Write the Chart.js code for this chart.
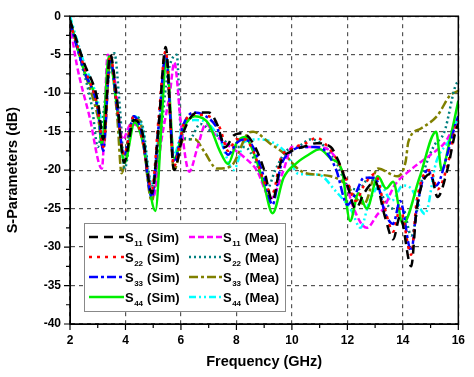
<!DOCTYPE html>
<html>
<head>
<meta charset="utf-8">
<script src="https://cdn.jsdelivr.net/npm/chart.js@4"></script>
<style>
  html, body { margin: 0; padding: 0; background: #fff; }
  #wrap { width: 474px; height: 377px; }
</style>
</head>
<body>
<div id="wrap"><canvas id="chart" width="474" height="377"></canvas></div>
<script>
// Frequency (GHz) / S-parameter (dB) pairs
const s11Sim = [[2,-0.5],[2.5,-6],[3.0,-11],[3.2,-16],[3.45,-5],[3.7,-11],[3.95,-19],[4.3,-13.5],[4.6,-15],[4.95,-23],[5.2,-14],[5.45,-4],[5.75,-20],[6.1,-15],[6.6,-12.5],[7.0,-12.5],[7.3,-14],[7.6,-17],[7.9,-15.5],[8.2,-15.2],[8.6,-16.5],[9.0,-20],[9.3,-24],[9.6,-19],[10.0,-17.5],[10.4,-17],[10.9,-16.5],[11.4,-17],[11.7,-19],[12.0,-22],[12.3,-25],[12.6,-23],[13.0,-21.5],[13.35,-26],[13.65,-29],[13.9,-26],[14.3,-32.5],[14.5,-25],[15.0,-20.5],[15.25,-23.5],[15.6,-20],[15.9,-15],[16,-14]];
const s22Sim = [[2,-0.8],[2.5,-6.5],[3.0,-12],[3.2,-17],[3.45,-5],[3.7,-12],[3.95,-18],[4.3,-13],[4.6,-16],[4.95,-22.5],[5.2,-13],[5.45,-4.5],[5.75,-19.5],[6.1,-14],[6.5,-12.8],[7.0,-13],[7.4,-14.5],[7.7,-17.5],[8.0,-16],[8.3,-16],[8.6,-17.5],[9.0,-21.5],[9.3,-23],[9.6,-18.5],[10.0,-17.2],[10.5,-16.5],[10.9,-15.8],[11.3,-17],[11.6,-18.5],[12.0,-21.5],[12.3,-24],[12.6,-22],[13.0,-20.5],[13.35,-25],[13.65,-28],[13.9,-25],[14.3,-31],[14.5,-24],[15.0,-20],[15.25,-22.5],[15.6,-19.5],[15.9,-14.5],[16,-13.5]];
const s33Sim = [[2,-0.8],[2.5,-7],[3.0,-12],[3.2,-17.5],[3.45,-5.5],[3.7,-12],[3.95,-18],[4.3,-13],[4.6,-15.5],[4.95,-23.5],[5.2,-14],[5.45,-5],[5.75,-19],[6.1,-14],[6.5,-12.5],[6.9,-13],[7.3,-14.5],[7.7,-18],[8.0,-16.5],[8.3,-16],[8.6,-17],[9.0,-21],[9.3,-24.5],[9.6,-19.5],[10.0,-17.5],[10.35,-17],[10.8,-17],[11.2,-17.5],[11.6,-20],[12.0,-24.5],[12.3,-23],[12.6,-21],[13.0,-21],[13.35,-25.5],[13.65,-27],[13.9,-24],[14.3,-30.5],[14.5,-25],[14.9,-20],[15.2,-22],[15.6,-18],[15.9,-14],[16,-13]];
const s44Sim = [[2,-0.5],[2.5,-7],[3.0,-12],[3.15,-16.8],[3.4,-5.2],[3.7,-12],[3.97,-19],[4.33,-13.8],[4.6,-16],[5.08,-25.3],[5.3,-14],[5.47,-5.2],[5.76,-18.5],[6.1,-14.5],[6.5,-13],[7.0,-14],[7.4,-17.5],[7.7,-19.2],[8.0,-16.5],[8.3,-15.7],[8.7,-18.5],[9.0,-22],[9.3,-25.6],[9.7,-21],[10.2,-19],[10.6,-18],[11.0,-17.3],[11.4,-18.5],[11.8,-20],[12.1,-26.6],[12.4,-23],[12.7,-25],[13.1,-20.8],[13.4,-22.4],[13.65,-21.5],[14.0,-27],[14.6,-21],[15.2,-15],[15.4,-20],[15.7,-16],[16,-11]];
const s11Mea = [[2,-1],[2.25,-6.4],[2.7,-13],[3.15,-19.8],[3.36,-5],[3.6,-8],[3.9,-16],[4.2,-14],[4.5,-14.5],[4.8,-20],[5.0,-23.5],[5.3,-16],[5.6,-10],[5.76,-6],[6.0,-14],[6.3,-20.2],[6.6,-17],[6.9,-14],[7.2,-15.3],[7.6,-16.5],[8.27,-18.3],[8.73,-20],[9.24,-23.7],[9.7,-20],[10.0,-17],[10.5,-17],[11.0,-17],[11.5,-18],[11.9,-21],[12.2,-24.7],[12.7,-27.5],[13.1,-25.7],[13.3,-25],[13.7,-22],[14.2,-20.2],[15.0,-18],[15.5,-16.5],[15.9,-14.2],[16,-14]];
const s22Mea = [[2,-0.5],[2.4,-6],[2.8,-12],[3.0,-17],[3.3,-10],[3.6,-4.8],[3.8,-12],[3.97,-19.8],[4.3,-13],[4.6,-14],[4.95,-22],[5.2,-18],[5.5,-8],[5.85,-5],[6.0,-15],[6.3,-16],[6.7,-14],[7.1,-15],[7.5,-16],[7.9,-17],[8.3,-17],[8.7,-19],[9.1,-22.5],[9.4,-20],[9.8,-17.5],[10.2,-17],[10.7,-16],[11.2,-17],[11.6,-19],[12.0,-22],[12.4,-22.5],[12.8,-21],[13.2,-23],[13.6,-25],[14.0,-25],[14.3,-28.5],[14.7,-21],[15.1,-17],[15.5,-15],[15.9,-9],[16,-8.5]];
const s33Mea = [[2,-1],[2.5,-7],[3.0,-13],[3.2,-17],[3.45,-6],[3.7,-13],[3.86,-20.4],[4.2,-14],[4.5,-13.5],[4.95,-24],[5.2,-16],[5.45,-5],[5.75,-20],[6.1,-16],[6.5,-16],[6.84,-17.6],[7.3,-19.8],[7.8,-19.5],[8.4,-15.3],[8.6,-15],[9.2,-16.5],[9.7,-17.8],[10.2,-19.8],[10.5,-20.4],[11.4,-20.8],[11.9,-21.7],[12.6,-24.4],[13.1,-19.8],[13.8,-20.8],[14.1,-18.9],[14.2,-16.3],[14.65,-14.6],[15.25,-12.9],[15.7,-10.3],[16,-9.7]];
const s44Mea = [[2,0],[2.5,-6],[3.0,-11],[3.2,-15],[3.45,-6],[3.7,-12],[3.95,-19],[4.3,-13],[4.6,-14.5],[4.95,-22],[5.2,-15],[5.45,-5.5],[5.75,-18],[6.1,-14],[6.5,-13.5],[7.0,-14],[7.4,-16],[7.9,-20],[8.3,-16.3],[8.8,-16],[9.25,-16.3],[9.8,-17.8],[10.24,-20.5],[10.96,-20.6],[11.57,-22.7],[12.15,-25.3],[12.47,-27.5],[12.8,-24],[13.2,-22],[13.6,-24],[14.0,-22],[14.3,-22.4],[14.8,-25.7],[15.2,-19],[15.7,-15.9],[16,-13]];

const seriesNames = ['11 (Sim)', '22 (Sim)', '33 (Sim)', '44 (Sim)', '11 (Mea)', '22 (Mea)', '33 (Mea)', '44 (Mea)'];
const xTicks = [2, 4, 6, 8, 10, 12, 14, 16];
const yTicks = [0, -5, -10, -15, -20, -25, -30, -35, -40];

const styles = [
  { color: '#000000', dash: [9, 6] },
  { color: '#ff0000', dash: [3, 5] },
  { color: '#0000ff', dash: [9, 3, 3, 3] },
  { color: '#00ee00', dash: [] },
  { color: '#ff00ff', dash: [6, 3] },
  { color: '#007f7f', dash: [2, 3] },
  { color: '#808000', dash: [9, 3, 3, 3] },
  { color: '#00ffff', dash: [7, 3, 2, 3, 2, 3] }
];

const allSeries = [s11Sim, s22Sim, s33Sim, s44Sim, s11Mea, s22Mea, s33Mea, s44Mea];

const datasets = allSeries.map((s, i) => ({
  label: 'S' + seriesNames[i],
  data: s.map(p => ({ x: p[0], y: p[1] })),
  borderColor: styles[i].color,
  borderDash: styles[i].dash,
  borderWidth: 2.5,
  pointRadius: 0,
  fill: false,
  cubicInterpolationMode: 'monotone'
}));

// axes frame, outward ticks (with minors) and the boxed legend
const framePlugin = {
  id: 'frame',
  afterDatasetsDraw(chart) {
    const ctx = chart.ctx;
    const a = chart.chartArea;
    const xs = chart.scales.x, ys = chart.scales.y;
    ctx.save();
    ctx.setLineDash([]);
    ctx.strokeStyle = '#000';
    ctx.lineWidth = 1.5;
    ctx.strokeRect(a.left, a.top, a.right - a.left, a.bottom - a.top);
    ctx.lineWidth = 1.2;
    ctx.beginPath();
    for (let v = 2; v <= 16; v += 1) {
      const px = xs.getPixelForValue(v);
      const len = v % 2 === 0 ? 6 : 4;
      ctx.moveTo(px, a.bottom); ctx.lineTo(px, a.bottom + len);
    }
    for (let v = 0; v >= -40; v -= 2.5) {
      const py = ys.getPixelForValue(v);
      const len = v % 5 === 0 ? 6 : 4;
      ctx.moveTo(a.left, py); ctx.lineTo(a.left - len, py);
    }
    ctx.stroke();

    // legend box
    const bx = 84, by = 223, bw = 201, bh = 88;
    ctx.fillStyle = '#fff';
    ctx.fillRect(bx, by, bw, bh);
    ctx.strokeStyle = '#888';
    ctx.lineWidth = 1;
    ctx.strokeRect(bx + 0.5, by + 0.5, bw, bh);
    const cols = [{ x0: 89, x1: 124, tx: 125 }, { x0: 189, x1: 222, tx: 223 }];
    const rows = [237, 257, 277, 297];
    chart.data.datasets.forEach((ds, i) => {
      const c = cols[Math.floor(i / 4)];
      const y = rows[i % 4];
      ctx.strokeStyle = ds.borderColor;
      ctx.lineWidth = 2.5;
      ctx.setLineDash(ds.borderDash);
      ctx.beginPath();
      ctx.moveTo(c.x0, y); ctx.lineTo(c.x1, y);
      ctx.stroke();
      ctx.setLineDash([]);
      const parts = ds.label.match(/^S(\d+) (.*)$/);
      ctx.fillStyle = '#000';
      ctx.textBaseline = 'alphabetic';
      ctx.textAlign = 'left';
      ctx.font = 'bold 13px "Liberation Sans", Arial, sans-serif';
      ctx.fillText('S', c.tx, y + 5);
      let x = c.tx + ctx.measureText('S').width + 0.5;
      ctx.font = 'bold 8px "Liberation Sans", Arial, sans-serif';
      ctx.fillText(parts[1], x, y + 9);
      x += ctx.measureText(parts[1]).width + 4;
      ctx.font = 'bold 13px "Liberation Sans", Arial, sans-serif';
      ctx.fillText(parts[2], x, y + 5);
    });
    ctx.restore();
  }
};

const tickFont = { family: '"Liberation Sans", Arial, sans-serif', size: 12, weight: 'bold' };
const titleFont = { family: '"Liberation Sans", Arial, sans-serif', size: 14.5, weight: 'bold' };

new Chart(document.getElementById('chart'), {
  type: 'line',
  data: { datasets },
  options: {
    responsive: false,
    animation: false,
    layout: { padding: { top: 13, right: 14, left: 0, bottom: 0 } },
    plugins: { legend: { display: false }, tooltip: { enabled: false } },
    scales: {
      x: {
        type: 'linear',
        min: 2, max: 16,
        afterBuildTicks: s => { s.ticks = xTicks.map(v => ({ value: v })); },
        afterFit: s => { s.height = 53; },
        ticks: { color: '#000', font: tickFont, padding: 9, maxRotation: 0 },
        grid: { color: '#555', drawTicks: false, tickBorderDash: [], lineWidth: 1.2 },
        border: { dash: [4, 4], color: '#000' },
        title: { display: true, text: 'Frequency (GHz)', color: '#000', font: titleFont, padding: { top: 0, bottom: 6 } }
      },
      y: {
        type: 'linear',
        min: -40, max: 0,
        afterBuildTicks: s => { s.ticks = yTicks.map(v => ({ value: v })); },
        afterFit: s => { s.width = 70; },
        ticks: { color: '#000', font: tickFont, padding: 9 },
        grid: { color: '#555', drawTicks: false, lineWidth: 1.2 },
        border: { dash: [4, 4], color: '#000' },
        title: { display: true, text: 'S-Parameters (dB)', color: '#000', font: titleFont, padding: { top: 4, bottom: 0 } }
      }
    }
  },
  plugins: [framePlugin]
});
</script>
</body>
</html>
